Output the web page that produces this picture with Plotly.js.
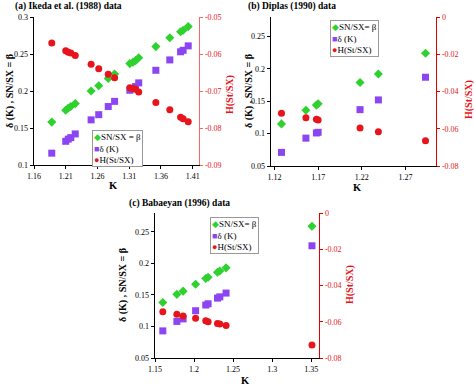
<!DOCTYPE html>
<html><head><meta charset="utf-8">
<script src="https://cdn.plot.ly/plotly-3.0.1.min.js"></script>
<style>html,body{margin:0;padding:0;background:#fff;}#chart{width:474px;height:386px;}</style>
</head><body><div id="chart"></div>
<script>
// ---------- data ----------
const namesA = ["SN/SX = β", "δ (K)", "H(St/SX)"];
const namesBC = ["SN/SX= β", "δ (K)", "H(St/SX)"];
const panelTitles = ["(a) Ikeda et al. (1988) data", "(b) Diplas (1990) data", "(c) Babaeyan (1996) data"];
const xTitle = "K";
const leftTitle = "δ (K) , SN/SX = β";
const rightTitle = "H(St/SX)";

// (a) Ikeda et al. (1988)
const kA = [1.188, 1.210, 1.214, 1.218, 1.225, 1.250, 1.262, 1.277, 1.287, 1.311, 1.316, 1.320, 1.325, 1.352, 1.374, 1.391, 1.395, 1.403];
const betaA = [0.158, 0.174, 0.177, 0.179, 0.183, 0.200, 0.207, 0.217, 0.223, 0.237, 0.239, 0.241, 0.245, 0.260, 0.272, 0.280, 0.282, 0.287];
const deltaA = [0.116, 0.132, 0.135, 0.137, 0.142, 0.161, 0.168, 0.179, 0.186, 0.201, 0.203, 0.206, 0.211, 0.228, 0.242, 0.253, 0.255, 0.261];
const hA = [-0.0570, -0.0591, -0.0595, -0.0597, -0.0604, -0.0628, -0.0640, -0.0655, -0.0664, -0.0691, -0.0693, -0.0695, -0.0703, -0.0731, -0.0751, -0.0771, -0.0775, -0.0783];

// (b) Diplas (1990)
const kB = [1.128, 1.156, 1.168, 1.170, 1.218, 1.239, 1.293];
const betaB = [0.115, 0.136, 0.144, 0.146, 0.179, 0.192, 0.224];
const deltaB = [0.071, 0.093, 0.101, 0.102, 0.137, 0.152, 0.187];
const hB = [-0.0517, -0.0541, -0.0549, -0.0553, -0.0596, -0.0616, -0.0664];

// (c) Babaeyan (1996)
const kC = [1.160, 1.178, 1.186, 1.202, 1.215, 1.218, 1.230, 1.233, 1.241, 1.351];
const betaC = [0.138, 0.151, 0.156, 0.167, 0.176, 0.178, 0.186, 0.188, 0.193, 0.259];
const deltaC = [0.093, 0.108, 0.112, 0.125, 0.134, 0.136, 0.145, 0.147, 0.153, 0.228];
const hC = [-0.0545, -0.0559, -0.0568, -0.0581, -0.0594, -0.0600, -0.0609, -0.0612, -0.0620, -0.0728];

// tick labels
const xTicksA = ["1.16", "1.21", "1.26", "1.31", "1.36", "1.41"];
const xTicksB = ["1.12", "1.17", "1.22", "1.27"];
const xTicksC = ["1.15", "1.2", "1.25", "1.3", "1.35"];
const yTicksA = ["0.1", "0.15", "0.2", "0.25", "0.3"];
const yTicksBC = ["0.05", "0.1", "0.15", "0.2", "0.25"];
const y2TicksA = ["-0.09", "-0.08", "-0.07", "-0.06", "-0.05"];
const y2TicksBC = ["-0.08", "-0.06", "-0.04", "-0.02", "0"];

// ---------- styling ----------
const W = 474, H = 386;
const FONT = "Liberation Serif, Times New Roman, serif";
const GREEN = "#2fd12f", PURPLE = "#8c45f2", RED = "#e8141b";
const px = x => x / W, py = y => 1 - y / H;
const P = {
  a: {x0: 34, x1: 199, y0: 17, y1: 165},
  b: {x0: 271, x1: 436, y0: 17, y1: 166},
  c: {x0: 155, x1: 319, y0: 213, y1: 358}
};
const num = a => a.map(Number);

function mk(x, y, xa, ya, color, symbol, size, name) {
  return {x: x, y: y, xaxis: xa, yaxis: ya, type: "scatter", mode: "markers", name: name,
    showlegend: false, marker: {color: color, symbol: symbol, size: size, line: {width: 0}}};
}
const data = [
  mk(kA, betaA, "x", "y", GREEN, "diamond", 7, namesA[0]),
  mk(kA, deltaA, "x", "y", PURPLE, "square", 7, namesA[1]),
  mk(kA, hA, "x", "y2", RED, "circle", 7, namesA[2]),
  mk(kB, betaB, "x2", "y3", GREEN, "diamond", 7, namesBC[0]),
  mk(kB, deltaB, "x2", "y3", PURPLE, "square", 7, namesBC[1]),
  mk(kB, hB, "x2", "y4", RED, "circle", 7, namesBC[2]),
  mk(kC, betaC, "x3", "y5", GREEN, "diamond", 7, namesBC[0]),
  mk(kC, deltaC, "x3", "y5", PURPLE, "square", 7, namesBC[1]),
  mk(kC, hC, "x3", "y6", RED, "circle", 7, namesBC[2])
];

const tickFont = {family: FONT, size: 8, color: "#000"};
function xAx(p, range, ticks, anchor) {
  return {domain: [px(p.x0), px(p.x1)], range: range, anchor: anchor, showgrid: false, zeroline: false,
    showline: true, linecolor: "#000", linewidth: 1.3, ticks: "outside", ticklen: 3, tickcolor: "#000",
    tickmode: "array", tickvals: num(ticks), ticktext: ticks, tickfont: tickFont, fixedrange: true};
}
function yAx(p, range, ticks, anchor) {
  return {domain: [py(p.y1), py(p.y0)], range: range, anchor: anchor, showgrid: false, zeroline: false,
    showline: true, linecolor: "#000", linewidth: 1.3, ticks: "outside", ticklen: 3, tickcolor: "#000",
    tickmode: "array", tickvals: num(ticks), ticktext: ticks, tickfont: tickFont, fixedrange: true};
}
function y2Ax(range, ticks, anchor, over, lc) {
  return {overlaying: over, side: "right", range: range, anchor: anchor, showgrid: false, zeroline: false,
    showline: true, linecolor: lc, linewidth: 1.3, ticks: "outside", ticklen: 3, tickcolor: lc,
    tickmode: "array", tickvals: num(ticks), ticktext: ticks,
    tickfont: {family: FONT, size: 8, color: RED}, fixedrange: true};
}

function legendText(names) {
  const glyph = ["◆", "■", "●"], cols = [GREEN, PURPLE, RED];
  return names.map((n, i) => '<span style="color:' + cols[i] + '">' + glyph[i] + '</span>' + n).join("<br>");
}

const ann = [];
function txt(x, y, text, opts) {
  ann.push(Object.assign({xref: "paper", yref: "paper", x: px(x), y: py(y), text: text, showarrow: false,
    xanchor: "center", yanchor: "middle",
    font: {family: FONT, size: 10, color: "#000"}}, opts || {}));
}
// panel titles
const tf = {family: FONT, size: 9.5, color: "#000"};
txt(13, 6, "<b>" + panelTitles[0] + "</b>", {xanchor: "left", font: tf});
txt(246, 6, "<b>" + panelTitles[1] + "</b>", {xanchor: "left", font: tf});
txt(127, 203, "<b>" + panelTitles[2] + "</b>", {xanchor: "left", font: tf});
// x titles
const kf = {family: FONT, size: 10.5, color: "#000"};
txt(113, 186, "<b>" + xTitle + "</b>", {font: kf});
txt(357, 188, "<b>" + xTitle + "</b>", {font: kf});
txt(245, 380, "<b>" + xTitle + "</b>", {font: kf});
// left titles
txt(10, 91, "<b>" + leftTitle + "</b>", {textangle: -90});
txt(249, 91, "<b>" + leftTitle + "</b>", {textangle: -90});
txt(123, 285, "<b>" + leftTitle + "</b>", {textangle: -90});
// right titles
const rf = {family: FONT, size: 10, color: RED};
txt(230, 95, "<b>" + rightTitle + "</b>", {textangle: -90, font: rf});
txt(469, 100, "<b>" + rightTitle + "</b>", {textangle: -90, font: rf});
txt(350, 285, "<b>" + rightTitle + "</b>", {textangle: -90, font: rf});
// legends
const lf = {family: FONT, size: 9, color: "#000"};
const lo = {xanchor: "left", yanchor: "top", align: "left", font: lf, bgcolor: "#fff", bordercolor: "#999", borderwidth: 1, borderpad: 1};
txt(92, 130, legendText(namesA), lo);
txt(330, 20, legendText(namesBC), lo);
txt(210, 217, legendText(namesBC), lo);

const layout = {
  width: W, height: H, margin: {l: 0, r: 0, t: 0, b: 0}, paper_bgcolor: "#fff", plot_bgcolor: "rgba(0,0,0,0)",
  showlegend: false, font: {family: FONT},
  xaxis: xAx(P.a, [1.16, 1.42], xTicksA, "y"),
  yaxis: yAx(P.a, [0.1, 0.3], yTicksA, "x"),
  yaxis2: y2Ax([-0.09, -0.05], y2TicksA, "x", "y", "#f06a6a"),
  xaxis2: xAx(P.b, [1.116, 1.305], xTicksB, "y3"),
  yaxis3: yAx(P.b, [0.05, 0.28], yTicksBC, "x2"),
  yaxis4: y2Ax([-0.08, 0], y2TicksBC, "x2", "y3", "#e00000"),
  xaxis3: xAx(P.c, [1.15, 1.36], xTicksC, "y5"),
  yaxis5: yAx(P.c, [0.05, 0.28], yTicksBC, "x3"),
  yaxis6: y2Ax([-0.08, 0], y2TicksBC, "x3", "y5", "#e00000"),
  annotations: ann
};
Plotly.newPlot("chart", data, layout, {displayModeBar: false, staticPlot: true});
</script></body></html>
